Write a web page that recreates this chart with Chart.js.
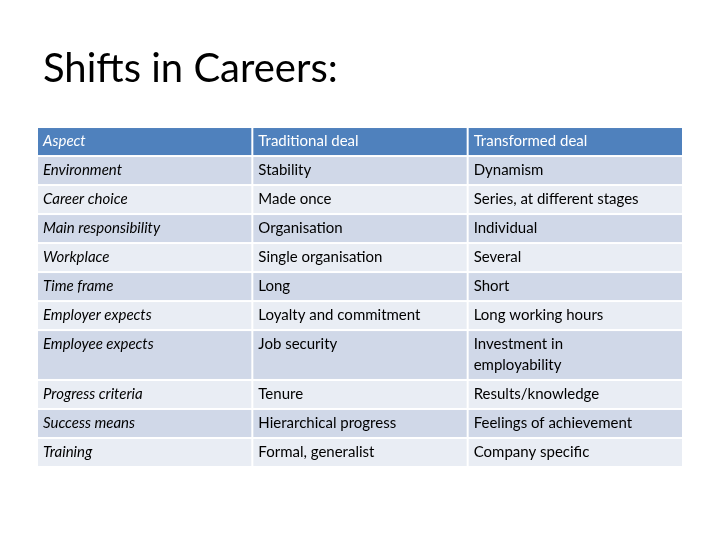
<!DOCTYPE html>
<html><head><meta charset="utf-8">
<script src="https://cdn.jsdelivr.net/npm/chart.js@4"></script>
<style>html,body{margin:0;padding:0;background:#fff}#c{display:block}</style>
</head><body>
<canvas id="c" width="720" height="540"></canvas>
<script>
const title = "Shifts in Careers:";
const headers = ["Aspect", "Traditional deal", "Transformed deal"];
const aspects = ["Environment","Career choice","Main responsibility","Workplace","Time frame","Employer expects","Employee expects","Progress criteria","Success means","Training"];
const traditional = ["Stability","Made once","Organisation","Single organisation","Long","Loyalty and commitment","Job security","Tenure","Hierarchical progress","Formal, generalist"];
const transformed = ["Dynamism","Series, at different stages","Individual","Several","Short","Long working hours",["Investment in","employability"],"Results/knowledge","Feelings of achievement","Company specific"];
const rowSpans = [1,1,1,1,1,1,1.72,1,1,1];

const FONT = "Lato, 'Noto Sans', sans-serif";
const tablePlugin = {
  id: 'table',
  afterDraw(chart) {
    const ctx = chart.ctx, xs = chart.scales.x, ys = chart.scales.y;
    ctx.save();
    ctx.fillStyle = '#000';
    ctx.font = "40px " + FONT;
    ctx.textBaseline = 'alphabetic';
    ctx.fillText(title, 43, 82);
    function cell(col, y0, y1, fill, lines, font, color) {
      const l = xs.getPixelForValue(col), r = xs.getPixelForValue(col + 1);
      const t = ys.getPixelForValue(y0), b = ys.getPixelForValue(y1);
      ctx.fillStyle = fill;
      ctx.fillRect(l + 1, t + 1, r - l - 2, b - t - 2);
      ctx.fillStyle = color;
      ctx.font = font;
      ctx.textBaseline = 'top';
      (Array.isArray(lines) ? lines : [lines]).forEach((s, i) => ctx.fillText(s, l + 6, t + 7 + i * 21));
    }
    headers.forEach((h, c) => cell(c, 0, 1, '#4F81BD', h, (c === 0 ? 'italic ' : '') + '15px ' + FONT, '#fff'));
    let y = 1;
    aspects.forEach((a, i) => {
      const fill = i % 2 === 0 ? '#D0D8E8' : '#E9EDF4';
      const y1 = y + rowSpans[i];
      cell(0, y, y1, fill, a, 'italic 15px ' + FONT, '#000');
      cell(1, y, y1, fill, traditional[i], '15px ' + FONT, '#000');
      cell(2, y, y1, fill, transformed[i], '15px ' + FONT, '#000');
      y = y1;
    });
    ctx.restore();
  }
};
new Chart(document.getElementById('c'), {
  type: 'scatter',
  data: { datasets: [{ data: [] }] },
  options: {
    responsive: false, animation: false, events: [],
    layout: { padding: 0 },
    plugins: { legend: { display: false }, tooltip: { enabled: false } },
    scales: {
      x: { type: 'linear', display: false, min: -37/215.33, max: 3 + 37/215.33 },
      y: { type: 'linear', display: false, reverse: true, min: -127/29, max: 11.72 + 73/29 }
    }
  },
  plugins: [tablePlugin]
});
</script>
</body></html>
